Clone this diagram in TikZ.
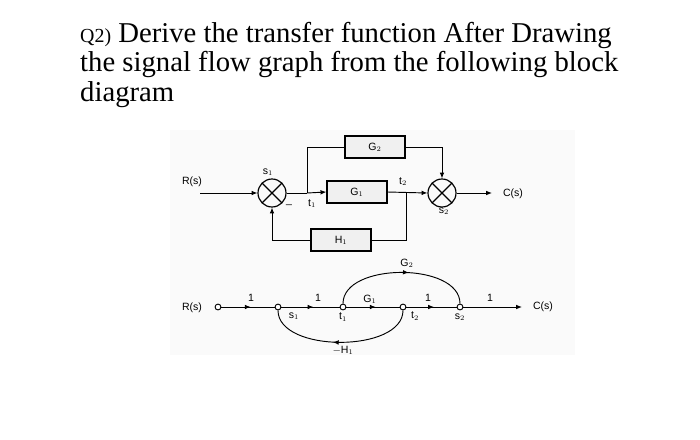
\documentclass[tikz,border=0pt]{standalone}
\usepackage{fontspec}
\setmainfont{Liberation Serif}
\newfontfamily\diagfont{Liberation Sans}
\usetikzlibrary{arrows.meta,decorations.markings}
\begin{document}
\begin{tikzpicture}[x=0.03cm,y=-0.03cm,
  lbl/.style={font=\diagfont\fontsize{9}{10}\selectfont,inner sep=1pt},
  blk/.style={draw,line width=1pt,fill=gray!12,minimum width=1.8cm,minimum height=0.66cm,font=\diagfont\fontsize{9}{10}\selectfont},
  summer/.style={draw,circle,line width=1pt,minimum size=0.84cm,inner sep=0pt,path picture={\draw[line width=1pt] (path picture bounding box.north west)--(path picture bounding box.south east) (path picture bounding box.north east)--(path picture bounding box.south west);}},
  wire/.style={line width=0.8pt},
  arr/.style={wire,-{Latex[length=5pt,width=4pt]}},
  sfnode/.style={draw,circle,line width=0.8pt,minimum size=5pt,inner sep=0pt,fill=white},
  mid/.style={wire,postaction={decorate},decoration={markings,mark=at position 0.55 with {\arrow{Latex[length=5pt,width=4pt]}}}}
]
\useasboundingbox (0,0) rectangle (700,439);
\fill[gray!4] (170,130) rectangle (575,355);
% title
\node[anchor=west,inner sep=0pt,font=\fontsize{24.5}{28}\selectfont] (t1) at (80,35) {{\fontsize{17}{20}\selectfont Q2)} Derive the transfer function After Drawing};
\node[anchor=west,inner sep=0pt,font=\fontsize{24.5}{28}\selectfont] (t2) at (80,64) {the signal flow graph from the following block};
\node[anchor=west,inner sep=0pt,font=\fontsize{24.5}{28}\selectfont] (t3) at (80,95) {diagram};
% block diagram
\node[summer] (S1) at (272,193) {};
\node[summer] (S2) at (442,193) {};
\node[blk] (G1) at (357,192) {G$_1$};
\node[blk] (G2) at (375,147) {G$_2$};
\node[blk] (H1) at (341,240) {H$_1$};
\coordinate (in) at (200,193);
\coordinate (T1) at (307,193);
\coordinate (T2) at (406,193);
\coordinate (out) at (492,193);
\node[lbl] (Rl) at (192,182) {R(s)};
\node[lbl] (s1l) at (268,172) {s$_1$};
\node[lbl] (t1l) at (312,204) {t$_1$};
\node[lbl] (t2l) at (403,182) {t$_2$};
\node[lbl] (s2l) at (444,211) {s$_2$};
\node[lbl] (Cl) at (513,194) {C(s)};
\node[lbl] (minus) at (289,205) {\_};
\draw[arr] (in) -- (S1.west);
\draw[wire] (S1.east) -- (T1);
\draw[arr] (T1) -- (G1.west);
\draw[wire] (T1) |- (G2.west);
\draw[arr] (G2.east) -| (S2.north);
\draw[arr] (G1.east) -- (S2.west);
\draw[wire] (T2) |- (H1.east);
\draw[arr] (H1.west) -| (S1.south);
\draw[arr] (S2.east) -- (out);
% signal flow graph
\node[sfnode] (R) at (218,307) {};
\node[sfnode] (n1) at (278,307) {};
\node[sfnode] (n2) at (343,307) {};
\node[sfnode] (n3) at (403,307) {};
\node[sfnode] (n4) at (460,307) {};
\coordinate (C) at (522,307);
\draw[mid] (R) -- (n1);
\draw[mid] (n1) -- (n2);
\draw[mid] (n2) -- (n3);
\draw[mid] (n3) -- (n4);
\draw[arr] (n4) -- (C);
\draw[mid] (n2) .. controls (343,262) and (460,262) .. (n4);
\draw[mid] (n3) .. controls (403,353) and (278,353) .. (n1);
\node[lbl] (Rs) at (192,308) {R(s)};
\node[lbl] (Cs) at (543,307) {C(s)};
\node[lbl] (a1) at (251,298) {1};
\node[lbl] (a2) at (318,298) {1};
\node[lbl] (a3) at (370,299) {G$_1$};
\node[lbl] (a4) at (428,298) {1};
\node[lbl] (a5) at (490,298) {1};
\node[lbl] (a6) at (407,263) {G$_2$};
\node[lbl] (a7) at (343,350) {$-$H$_1$};
\node[lbl] (b1) at (294,316) {s$_1$};
\node[lbl] (b2) at (343,317) {t$_1$};
\node[lbl] (b3) at (415,316) {t$_2$};
\node[lbl] (b4) at (460,317) {s$_2$};
\end{tikzpicture}
\end{document}
